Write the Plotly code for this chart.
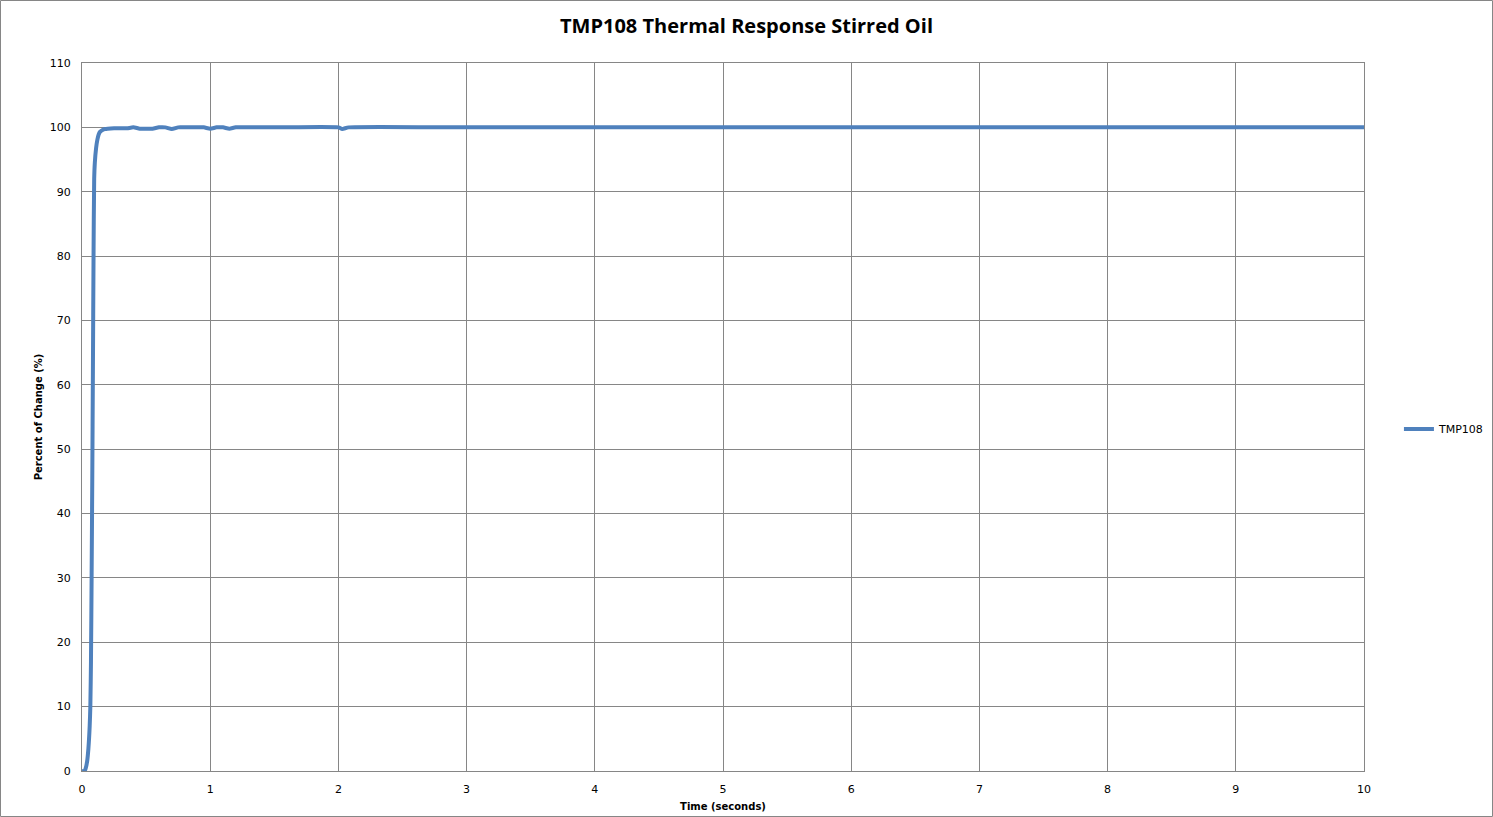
import plotly.graph_objects as go

# readings
time_s = [0, 0.02, 0.03, 0.04, 0.05, 0.06, 0.065, 0.07, 0.075, 0.08, 0.085, 0.09, 0.095,
          0.10, 0.11, 0.12, 0.13, 0.14, 0.16, 0.18, 0.20, 0.25, 0.30, 0.35, 0.40, 0.45,
          0.50, 0.55, 0.60, 0.65, 0.70, 0.75, 0.80, 0.90, 0.95, 1.00, 1.05, 1.10, 1.15,
          1.20, 1.50, 2.00, 2.03, 2.08, 3, 4, 5, 6, 7, 8, 9, 10]
pct_change = [0, 0, 0.5, 1.5, 3.5, 7, 10, 17, 30, 45, 62, 80, 92,
              94.5, 96.8, 98.1, 98.9, 99.3, 99.6, 99.75, 99.8, 99.85, 99.85, 99.85, 100.0, 99.8,
              99.8, 99.8, 100.0, 100.0, 99.75, 100.0, 100.0, 100.0, 100.0, 99.8, 100.0, 100.0, 99.8,
              100.0, 100.0, 100.0, 99.75, 100.0, 100, 100, 100, 100, 100, 100, 100, 100]

fig = go.Figure()
fig.add_trace(go.Scatter(x=time_s, y=pct_change, mode="lines", name="TMP108",
                         line=dict(color="#4F81BD", width=4, shape="spline", smoothing=0.6)))

axis_style = dict(showgrid=True, gridcolor="#868686", gridwidth=1, showline=True,
                  linecolor="#868686", linewidth=1, mirror=True, zeroline=False,
                  ticks="", ticklabelstandoff=8,
                  tickfont=dict(family="DejaVu Sans", size=11, color="#000000"))

fig.update_xaxes(range=[0, 10], dtick=1, title=dict(text="<b>Time (seconds)</b>", standoff=7,
                 font=dict(family="DejaVu Sans", size=10, color="#000000")), **axis_style)
fig.update_yaxes(range=[0, 110], dtick=10, title=dict(text="<b>Percent of Change (%)</b>", standoff=5,
                 font=dict(family="DejaVu Sans", size=10, color="#000000")), **axis_style)

fig.update_layout(
    width=1493, height=817,
    margin=dict(l=82, r=129, t=63, b=46, autoexpand=False),
    paper_bgcolor="white", plot_bgcolor="white",
    title=dict(text="<b>TMP108 Thermal Response Stirred Oil</b>", x=0.5, xanchor="center",
               y=0.968, yanchor="middle", font=dict(family="Open Sans", size=20, color="#000000")),
    legend=dict(xref="container", yref="container", x=0.937, y=0.475,
                xanchor="left", yanchor="middle",
                font=dict(family="DejaVu Sans", size=11, color="#000000")),
    showlegend=True,
)

# outer chart border
fig.add_shape(type="rect", xref="paper", yref="paper",
              x0=-81.5 / 1282, x1=1 + 128.5 / 1282, y0=-45.5 / 708, y1=1 + 62.5 / 708,
              line=dict(color="#868686", width=1))

# drop the default body margin so the figure sits at the window's corner
fig.write_html("out.html", config={"displayModeBar": False},
               post_script="document.body.style.margin='0px';")
